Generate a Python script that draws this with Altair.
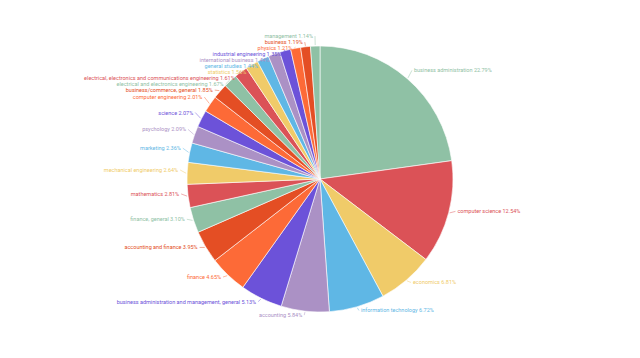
import altair as alt
import pandas as pd

names = [
    "business administration", "computer science", "economics", "information technology",
    "accounting", "business administration and management, general", "finance",
    "accounting and finance", "finance, general", "mathematics", "mechanical engineering",
    "marketing", "psychology", "science", "computer engineering", "business/commerce, general",
    "electrical and electronics engineering",
    "electrical, electronics and communications engineering", "statistics", "general studies",
    "international business", "industrial engineering", "physics", "business", "management",
]
values = [22.79, 12.54, 6.81, 6.72, 5.84, 5.13, 4.65, 3.95, 3.10, 2.81, 2.64, 2.36, 2.09,
          2.07, 2.01, 1.85, 1.67, 1.61, 1.56, 1.44, 1.44, 1.35, 1.21, 1.19, 1.14]
palette = ["#8fc1a5", "#db5257", "#f0cb69", "#5fb7e5", "#ab91c5", "#6c52d9", "#fd6a37", "#e44e24"]

df = pd.DataFrame({"name": names, "value": values, "order": list(range(len(names)))})
colors = [palette[i % len(palette)] for i in range(len(names))]
color_scale = alt.Scale(domain=names, range=colors)

W, H = 624, 342
CX, CY, R, RL, SP = W / 2, H / 2, 133, 140, 6

base = alt.Chart(df)

arcs = base.mark_arc(radius=R, stroke="white", strokeWidth=0.6).encode(
    theta=alt.Theta("value:Q", stack=True),
    order=alt.Order("order:Q", sort="ascending"),
    color=alt.Color("name:N", scale=color_scale, legend=None),
)

lab = base.transform_joinaggregate(
    total="sum(value)"
).transform_window(
    cum="sum(value)", sort=[alt.SortField("order", order="ascending")], frame=[None, 0]
).transform_calculate(
    mid="2*PI*(datum.cum - datum.value/2)/datum.total"
).transform_calculate(
    side="sin(datum.mid) >= 0 ? 'right' : 'left'",
    nx=f"{CX} + {RL}*sin(datum.mid)",
    ny=f"{CY} - {RL}*cos(datum.mid) - 3",
    ex=f"{CX} + {R + 1}*sin(datum.mid)",
    ey=f"{CY} - {R + 1}*cos(datum.mid)",
    label="datum.name + ' ' + format(datum.value, '.2f') + '%'",
).transform_calculate(
    key="datum.side == 'left' ? -datum.order : datum.order"
).transform_window(
    k="row_number()", groupby=["side"], sort=[alt.SortField("key", order="ascending")]
).transform_calculate(
    z=f"datum.ny - datum.k*{SP}"
).transform_window(
    zmax="max(z)", groupby=["side"], sort=[alt.SortField("key", order="ascending")], frame=[None, 0]
).transform_calculate(
    ly=f"datum.zmax + datum.k*{SP}",
    tx="datum.side == 'left' ? datum.nx - 2 : datum.nx + 2",
)

lines = lab.mark_rule(strokeWidth=0.6, opacity=0.8).encode(
    x=alt.X("ex:Q", scale=None, axis=None),
    y=alt.Y("ey:Q", scale=None, axis=None),
    x2="nx:Q",
    y2="ly:Q",
    color=alt.Color("name:N", scale=color_scale, legend=None),
)

text_common = dict(
    x=alt.X("tx:Q", scale=None, axis=None),
    y=alt.Y("ly:Q", scale=None, axis=None),
    text="label:N",
    color=alt.Color("name:N", scale=color_scale, legend=None),
)

left_text = lab.transform_filter("datum.side == 'left'").mark_text(
    align="right", baseline="middle", font="Roboto", fontSize=5.5
).encode(**text_common)

right_text = lab.transform_filter("datum.side == 'right'").mark_text(
    align="left", baseline="middle", font="Roboto", fontSize=5.5
).encode(**text_common)

chart = alt.layer(arcs, lines, left_text, right_text).properties(
    width=W, height=H, padding=0, autosize=alt.AutoSizeParams(type="none")
).configure_view(stroke=None)

chart.save("out.html", embed_options={"renderer": "svg", "actions": False})
